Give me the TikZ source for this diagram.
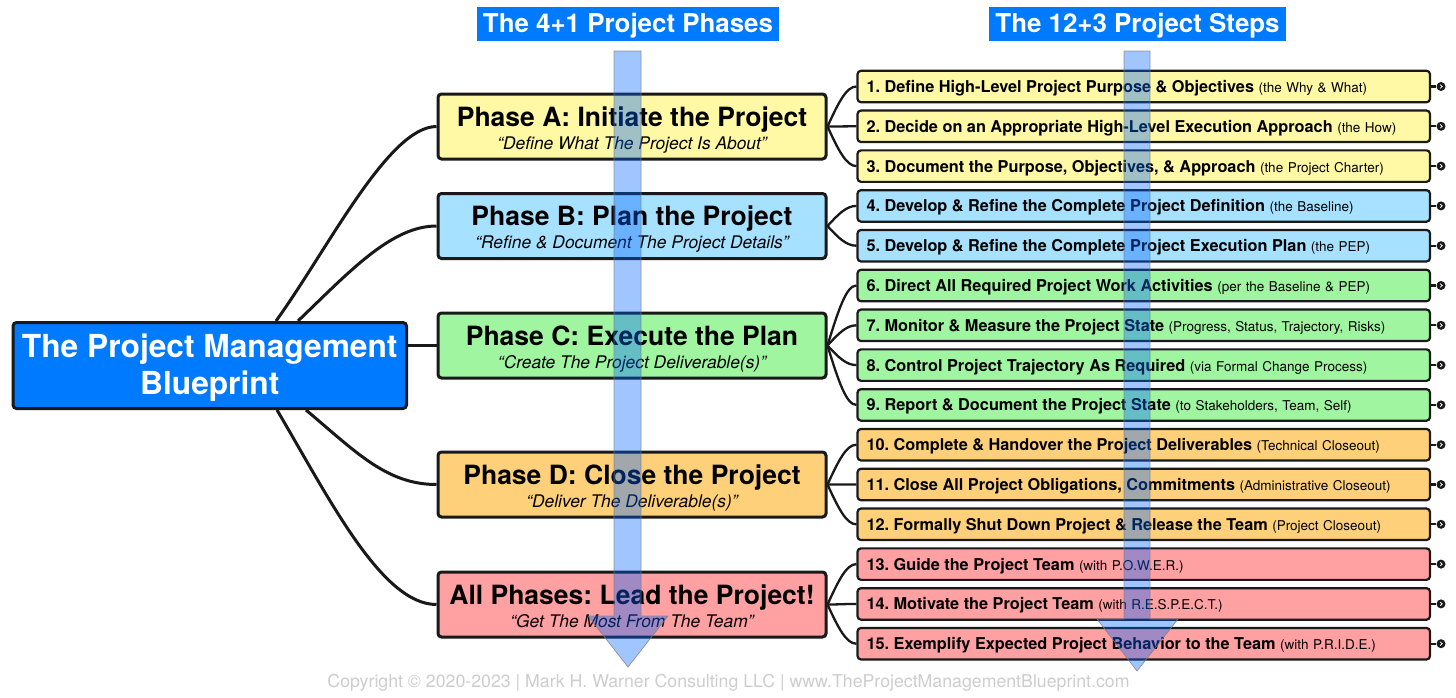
\documentclass[tikz,border=0pt]{standalone}
\usepackage{fontspec}
\setmainfont{TeX Gyre Heros}
\definecolor{rootblue}{HTML}{007AFF}
\definecolor{flowblue}{HTML}{0062FF}
\definecolor{phaseyellow}{HTML}{FFF8A5}
\definecolor{phasecyan}{HTML}{A6E1FF}
\definecolor{phasegreen}{HTML}{A0F5A0}
\definecolor{phaseorange}{HTML}{FFD07A}
\definecolor{phasered}{HTML}{FFA0A2}
\definecolor{notegray}{HTML}{CDCDCD}
\frenchspacing
\begin{document}
\begin{tikzpicture}[
    x=1pt, y=-1pt,
    box/.style={draw=black!90, line width=3pt, rounded corners=3.5pt, inner sep=0pt, text=black},
    rootbox/.style={box, fill=rootblue, text=white, minimum width=393.5pt, minimum height=86pt, text height=62pt, text depth=5pt, align=center, font=\bfseries\fontsize{31.7}{37}\selectfont},
    phasebox/.style={box, minimum width=388pt, minimum height=65pt, text height=50pt, text depth=5pt, align=center, font=\fontsize{17.4}{23}\selectfont},
    stepbox/.style={box, line width=2.2pt, minimum height=31.5pt, text width=554.5pt, text height=15pt, text depth=3pt, inner xsep=9pt, align=left, font=\fontsize{13.5}{15}\selectfont},
    banner/.style={fill=rootblue, text=white, minimum height=34pt, text height=20pt, text depth=3.4pt, inner sep=0pt, font=\bfseries\fontsize{25.9}{30}\selectfont},
    branch/.style={draw=black!90, line width=3pt},
    twig/.style={draw=black!90, line width=2.3pt},
    endmark/.style={fill=black!90, circle, minimum size=9pt, inner sep=0pt},
    flow/.style={fill=flowblue, fill opacity=.37, draw=gray, draw opacity=.8, line width=.7pt}
  ]
  \useasboundingbox (0,0) rectangle (1456,697);
  % centre box
  \node[rootbox] (root) at (209.75,365.5) {The Project Management\\Blueprint};
  % the phases
  \foreach \name/\col/\ypos/\title/\motto in {
      A/phaseyellow/126.5/Phase A: Initiate the Project/“Define What The Project Is About”,
      B/phasecyan/226/Phase B: Plan the Project/“Refine \& Document The Project Details”,
      C/phasegreen/345.5/Phase C: Execute the Plan/“Create The Project Deliverable(s)”,
      D/phaseorange/484.5/Phase D: Close the Project/“Deliver The Deliverable(s)”,
      E/phasered/604.5/All Phases: Lead the Project!/“Get The Most From The Team”} {
    \node[phasebox, fill=\col] (phase\name) at (632,\ypos) {{\bfseries\fontsize{26.5}{23}\selectfont \title}\\{\itshape \motto}};
  }
  % the steps
  \foreach \num/\col/\txt/\extra in {
      1/phaseyellow/Define High-Level Project Purpose \& Objectives/(the Why \& What),
      2/phaseyellow/Decide on an Appropriate High-Level Execution Approach/(the How),
      3/phaseyellow/{Document the Purpose, Objectives, \& Approach}/(the Project Charter),
      4/phasecyan/Develop \& Refine the Complete Project Definition/(the Baseline),
      5/phasecyan/Develop \& Refine the Complete Project Execution Plan/(the PEP),
      6/phasegreen/Direct All Required Project Work Activities/(per the Baseline \& PEP),
      7/phasegreen/Monitor \& Measure the Project State/{(Progress, Status, Trajectory, Risks)},
      8/phasegreen/Control Project Trajectory As Required/(via Formal Change Process),
      9/phasegreen/Report \& Document the Project State/{(to Stakeholders, Team, Self)},
      10/phaseorange/Complete \& Handover the Project Deliverables/(Technical Closeout),
      11/phaseorange/{Close All Project Obligations, Commitments}/(Administrative Closeout),
      12/phaseorange/Formally Shut Down Project \& Release the Team/(Project Closeout),
      13/phasered/Guide the Project Team/(with P.O.W.E.R.),
      14/phasered/Motivate the Project Team/(with R.E.S.P.E.C.T.),
      15/phasered/Exemplify Expected Project Behavior to the Team/(with P.R.I.D.E.)} {
    \pgfmathsetmacro{\ypos}{86.5+39.8*(\num-1)}
    \node[stepbox, fill=\col] (step\num) at (1143.75,\ypos) {{\bfseries\fontsize{16.3}{18}\selectfont \num. \txt} \extra};
    \node[endmark] (end\num) at (1441,\ypos) {};
    \draw[twig] (step\num.east) -- (end\num);
    \draw[white, line width=.8pt] (end\num.center) ++(-.8,-1.8) -- ++(2,1.8) -- ++(-2,1.8);
  }
  % root to phases
  \coordinate (rootA) at (276,321);
  \coordinate (rootB) at (298,321);
  \coordinate (rootD) at (306,410);
  \coordinate (rootE) at (277,410);
  \draw[branch] (rootA) .. controls +(52,-72) and +(-48,0) .. (phaseA.west);
  \draw[branch] (rootB) .. controls +(52,-50) and +(-45,0) .. (phaseB.west);
  \draw[branch] (root.east |- phaseC.west) -- (phaseC.west);
  \draw[branch] (rootD) .. controls +(50,42) and +(-50,0) .. (phaseD.west);
  \draw[branch] (rootE) .. controls +(52,88) and +(-55,0) .. (phaseE.west);
  % phases to steps
  \foreach \from/\to/\rise in {
      phaseA/step1/-40, phaseA/step2/0, phaseA/step3/40,
      phaseB/step4/-20, phaseB/step5/20,
      phaseC/step6/-60, phaseC/step7/-20, phaseC/step8/20, phaseC/step9/60,
      phaseD/step10/-40, phaseD/step11/0, phaseD/step12/40,
      phaseE/step13/-40, phaseE/step14/0, phaseE/step15/40} {
    \pgfmathsetmacro{\lift}{0.6*\rise}
    \draw[twig] (\from.east) .. controls +(11,\lift) and +(-10,0) .. (\to.west);
  }
  % headings
  \node[banner, minimum width=302pt] (headPhases) at (628,24) {The 4+1 Project Phases};
  \node[banner, minimum width=297pt] (headSteps) at (1137.5,24) {The 12+3 Project Steps};
  % big arrows
  \draw[flow] (614,51) -- (641,51) -- (641,616) -- (668,616) -- (628,667) -- (588,616) -- (614,616) -- cycle;
  \draw[flow] (1124,51) -- (1150,51) -- (1150,619) -- (1178,619) -- (1137,671) -- (1097,619) -- (1124,619) -- cycle;
  \node[text=notegray, text height=13pt, text depth=4pt, inner sep=0pt, font=\fontsize{17.73}{20}\selectfont] (note) at (728.5,683) {Copyright © 2020-2023 | Mark H. Warner Consulting LLC | www.TheProjectManagementBlueprint.com};
\end{tikzpicture}
\end{document}
